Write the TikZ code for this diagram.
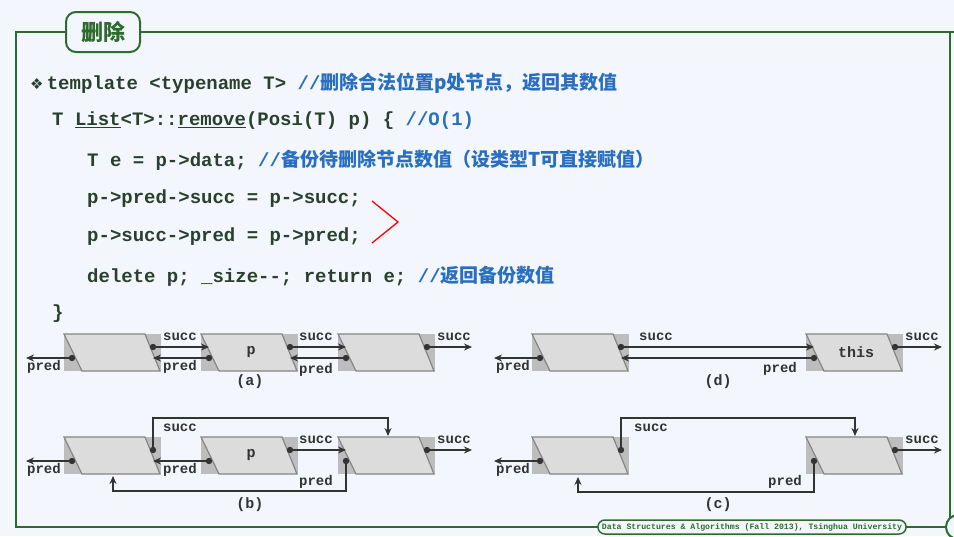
\documentclass[tikz,border=0pt]{standalone}
\usepackage{fontspec}
\setmainfont{Liberation Sans}
\newfontfamily\codef{Liberation Mono}
\newfontfamily\symf{DejaVu Sans}
\newfontfamily\cjk{Noto Sans CJK SC}
\usetikzlibrary{arrows.meta}
\definecolor{bgc}{HTML}{F3F7FD}
\definecolor{frame}{HTML}{2E6B2E}
\definecolor{codec}{HTML}{2A402C}
\definecolor{cmt}{HTML}{2A6FBF}
\definecolor{nbg}{HTML}{BDBDBD}
\definecolor{nfill}{HTML}{DCDCDC}
\definecolor{nedge}{HTML}{858585}
\definecolor{lnk}{HTML}{333333}
\newcommand{\LNode}[4]{%
 \fill[nbg] (#2,#3) rectangle ++(97,37);
 \draw[nedge,fill=nfill,line width=1.2pt] (#2,#3) -- ++(81,0) -- ++(15,37) -- ++(-78,0) -- cycle;
 \node[lab,font=\codef\bfseries\fontsize{15}{15}\selectfont] (#1) at (#2+50,#3+18) {#4};
 \coordinate (#1-s) at (#2+89,#3+13);
 \coordinate (#1-p) at (#2+8,#3+24);
 \fill[lnk] (#1-s) circle (3.2pt) (#1-p) circle (3.2pt);
}
\begin{document}
\begin{tikzpicture}[x=1pt,y=-1pt,
 code/.style={anchor=west,inner sep=0,text=codec,font=\codef\bfseries\fontsize{19}{19}\selectfont},
 lab/.style={inner sep=0,text=lnk,font=\codef\bfseries\fontsize{14}{14}\selectfont},
 link/.style={draw=lnk,line width=1.4pt,-{Stealth[length=8pt,width=7pt]}},
 captxt/.style={inner sep=0,text=lnk,font=\codef\bfseries\fontsize{15}{15}\selectfont}]
\useasboundingbox (0,0) rectangle (954,536);
\fill[bgc] (0,0) rectangle (954,536);
% frame
\draw[frame,line width=2pt] (954,32) -- (16,32) -- (16,527) -- (954,527);
\draw[frame,line width=2pt] (950,32) -- (950,527);
\node[draw=frame,line width=2pt,fill=bgc,rounded corners=10pt,minimum width=74pt,minimum height=40pt,text=frame,font=\cjk\bfseries\fontsize{22}{22}\selectfont] (title) at (103,32) {删除};
% code
\node[code] (l1) at (30,83) {{\symf\fontsize{15}{15}\selectfont ❖}\,template <typename T> \textcolor{cmt}{//\cjk\bfseries 删除合法位置p处节点，返回其数值}};
\node[code] (l2) at (52,121) {T \underline{List}<T>::\underline{remove}(Posi(T) p) \{ \textcolor{cmt}{//O(1)}};
\node[code] (l3) at (87,160) {T e = p->data; \textcolor{cmt}{//\cjk\bfseries 备份待删除节点数值（设类型T可直接赋值）}};
\node[code] (l4) at (87,199) {p->pred->succ = p->succ;};
\node[code] (l5) at (87,237) {p->succ->pred = p->pred;};
\node[code] (l6) at (87,276) {delete p; \_size--; return e; \textcolor{cmt}{//\cjk\bfseries 返回备份数值}};
\node[code] (l7) at (52,314) {\}};
\draw[red,line width=1.3pt] (372,201) -- (398,222) -- (372,243);
% (a)
\LNode{a1}{64}{334}{}
\LNode{a2}{201}{334}{p}
\LNode{a3}{338}{334}{}
\coordinate (a0) at (26,358); \coordinate (a4) at (472,347);
\draw[link] (a1-p) -- (a0); \draw[link] (a1-s) -- (a2-p |- a1-s);
\draw[link] (a2-p) -- (a1-s |- a2-p);
\draw[link] (a2-s) -- (a3-p |- a2-s); \draw[link] (a3-p) -- (a2-s |- a3-p);
\draw[link] (a3-s) -- (a4);
\node[lab] at (44,367) {pred}; \node[lab] at (180,337) {succ}; \node[lab] at (180,367) {pred};
\node[lab] at (316,337) {succ}; \node[lab] at (316,370) {pred}; \node[lab] at (454,337) {succ};
\node[captxt] at (250,382) {(a)};
% (b)
\LNode{b1}{64}{437}{}
\LNode{b2}{201}{437}{p}
\LNode{b3}{338}{437}{}
\coordinate (b0) at (26,461); \coordinate (b4) at (472,450);
\coordinate (bs) at (388,436); \coordinate (bp) at (113,476);
\draw[link] (b1-p) -- (b0);
\draw[link] (b1-s) -- (b1-s |- 0,418) -- (bs |- 0,418) -- (bs);
\draw[link] (b2-p) -- (b1-s |- b2-p);
\draw[link] (b2-s) -- (b3-p |- b2-s);
\draw[link] (b3-p) -- (b3-p |- 0,491) -- (bp |- 0,491) -- (bp);
\draw[link] (b3-s) -- (b4);
\node[lab] at (44,470) {pred}; \node[lab] at (180,428) {succ}; \node[lab] at (180,470) {pred};
\node[lab] at (316,440) {succ}; \node[lab] at (316,482) {pred}; \node[lab] at (454,440) {succ};
\node[captxt] at (250,505) {(b)};
% (d)
\LNode{d1}{532}{334}{}
\LNode{d2}{806}{334}{this}
\coordinate (d0) at (494,358); \coordinate (d4) at (942,347);
\draw[link] (d1-p) -- (d0);
\draw[link] (d1-s) -- (d2-p |- d1-s);
\draw[link] (d2-p) -- (d1-s |- d2-p);
\draw[link] (d2-s) -- (d4);
\node[lab] at (513,367) {pred}; \node[lab] at (656,337) {succ}; \node[lab] at (780,369) {pred}; \node[lab] at (922,337) {succ};
\node[captxt] at (718,382) {(d)};
% (c)
\LNode{c1}{532}{437}{}
\LNode{c2}{806}{437}{}
\coordinate (c0) at (494,461); \coordinate (c4) at (942,450);
\coordinate (cs) at (855,436); \coordinate (cp) at (578,477);
\draw[link] (c1-p) -- (c0);
\draw[link] (c1-s) -- (c1-s |- 0,418) -- (cs |- 0,418) -- (cs);
\draw[link] (c2-p) -- (c2-p |- 0,492) -- (cp |- 0,492) -- (cp);
\draw[link] (c2-s) -- (c4);
\node[lab] at (513,470) {pred}; \node[lab] at (651,428) {succ}; \node[lab] at (785,482) {pred}; \node[lab] at (922,440) {succ};
\node[captxt] at (718,505) {(c)};
% footer
\node[draw=frame,line width=1.5pt,fill=bgc,rounded corners=7pt,inner xsep=4pt,inner ysep=2pt,minimum height=14pt,text=frame,font=\codef\bfseries\fontsize{8.2}{8.2}\selectfont] (foot) at (752,527) {Data Structures \& Algorithms (Fall 2013), Tsinghua University};
\draw[frame,line width=2pt,fill=bgc] (958,527) circle (12pt);
\end{tikzpicture}
\end{document}
